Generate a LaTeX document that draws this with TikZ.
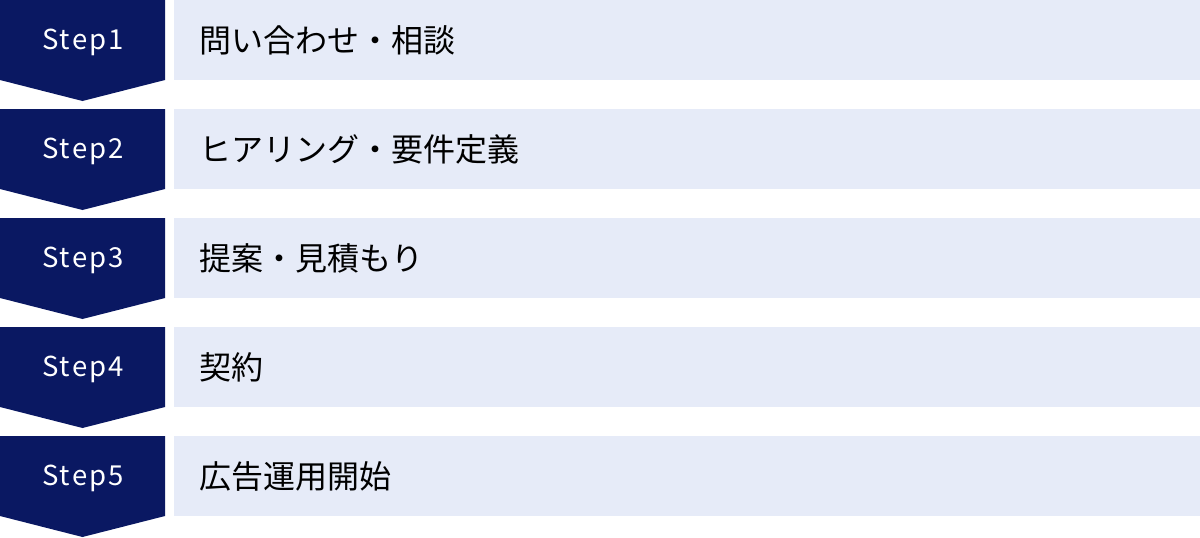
\documentclass[tikz,border=0pt]{standalone}
\usepackage{fontspec}
\setmainfont{Noto Sans CJK JP}
\newfontfamily\stepfont[LetterSpace=8]{Noto Sans CJK JP}
\usepackage{tikz}
\usetikzlibrary{positioning}
\definecolor{stepnavy}{HTML}{0A1862}
\definecolor{boxblue}{HTML}{E6EBF8}

\begin{document}
\begin{tikzpicture}[x=1pt,y=-1pt]
\tikzstyle{every node}+=[inner sep=0pt]
\tikzstyle{steplabel}=[text=white,font=\stepfont\fontsize{27.5}{27.5}\selectfont]
\tikzstyle{rowbox}=[fill=boxblue,minimum width=1026pt,minimum height=80pt,anchor=north west]
\tikzstyle{rowtext}=[text=black,anchor=west,font=\fontsize{32}{32}\selectfont]
\useasboundingbox (0,0) rectangle (1200,538);
% Step1
\fill [stepnavy] (0,0) -- (165,0) -- (165,80) -- (82.5,101) -- (0,80) -- cycle;
\node [steplabel] (s1) at (83,42) {Step1};
\node [rowbox] (b1) at (174,0) {};
\node [rowtext] (t1) at (199,40) {問い合わせ・相談};
% Step2
\fill [stepnavy] (0,109) -- (165,109) -- (165,189) -- (82.5,210) -- (0,189) -- cycle;
\node [steplabel] (s2) at (83,151) {Step2};
\node [rowbox] (b2) at (174,109) {};
\node [rowtext] (t2) at (199,149) {ヒアリング・要件定義};
% Step3
\fill [stepnavy] (0,218) -- (165,218) -- (165,298) -- (82.5,319) -- (0,298) -- cycle;
\node [steplabel] (s3) at (83,260) {Step3};
\node [rowbox] (b3) at (174,218) {};
\node [rowtext] (t3) at (199,258) {提案・見積もり};
% Step4
\fill [stepnavy] (0,327) -- (165,327) -- (165,407) -- (82.5,428) -- (0,407) -- cycle;
\node [steplabel] (s4) at (83,369) {Step4};
\node [rowbox] (b4) at (174,327) {};
\node [rowtext] (t4) at (199,367) {契約};
% Step5
\fill [stepnavy] (0,436) -- (165,436) -- (165,516) -- (82.5,537) -- (0,516) -- cycle;
\node [steplabel] (s5) at (83,478) {Step5};
\node [rowbox] (b5) at (174,436) {};
\node [rowtext] (t5) at (199,476) {広告運用開始};
\end{tikzpicture}
\end{document}
